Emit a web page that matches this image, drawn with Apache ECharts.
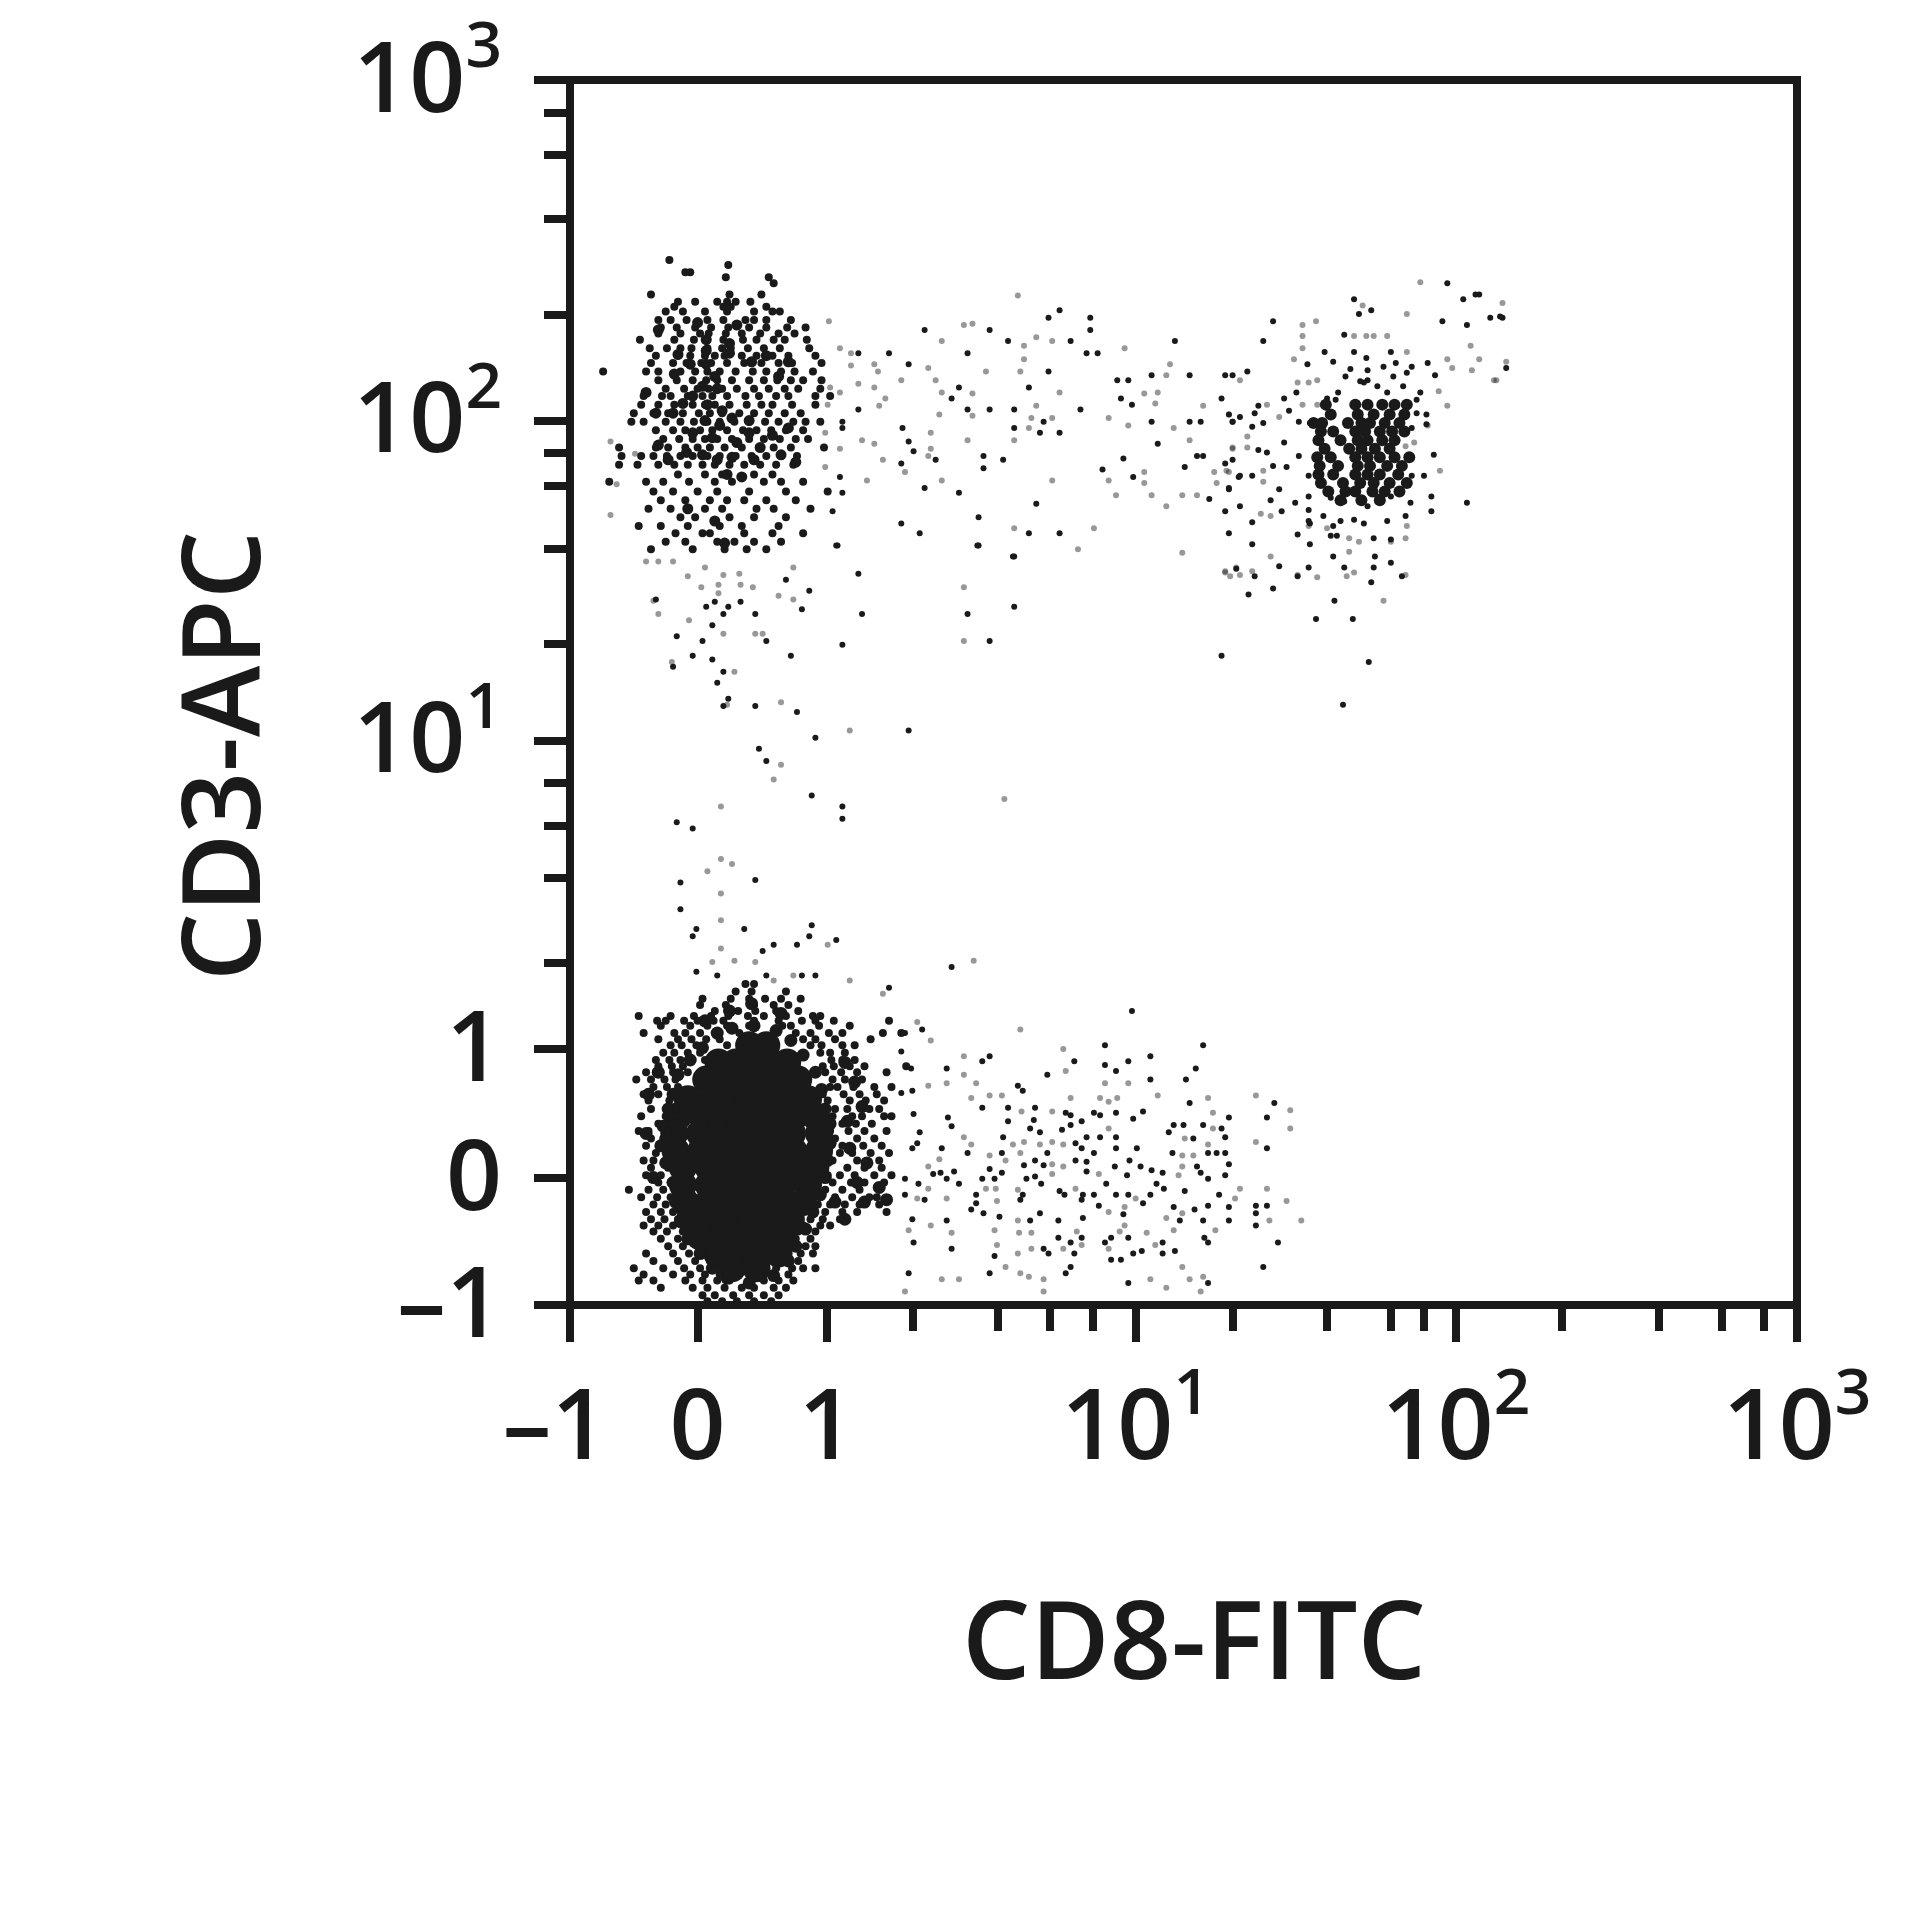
<!DOCTYPE html>
<html>
<head>
<meta charset="utf-8">
<title>CD3 / CD8 dot plot</title>
<script src="https://cdn.jsdelivr.net/npm/echarts@6/dist/echarts.min.js"></script>
<style>
html,body{margin:0;padding:0;background:#fff;}
#main{width:1920px;height:1920px;}
</style>
</head>
<body>
<div id="main"></div>
<script>
// both axes are biexponential, so everything is kept in display channels 0-1000
var majorTicks = [0, 104, 209, 461, 722, 1000];
var majorLabels = ['-1', '0', '1', '10^1', '10^2', '10^3'];
var minorTicks = [279, 349, 391, 426, 540, 617, 669, 696, 808, 887, 939, 973];
var xName = 'CD8-FITC';
var yName = 'CD3-APC';

// solid middle of the CD3- CD8- population, [y, [x...]]
var coreRows = [
  [212,[146,160]],
  [198,[121,135,149,163,177]],
  [184,[111,126,141,156,171,186]],
  [168,[96,115,130,145,160,175,194]],
  [154,[88,108,123,138,153,168,183,200]],
  [140,[85,106,121,136,151,166,181,203]],
  [126,[86,107,122,137,152,167,182,203]],
  [112,[92,113,128,143,158,173,188,200]],
  [98,[92,113,128,143,158,173,194]],
  [84,[94,113,128,143,158,173,190]],
  [70,[98,117,132,147,162,180]],
  [56,[106,125,140,155,174]],
  [42,[120,138,152,170]],
  [30,[132,152]]
];

// blotchy edge of that middle, [x, y]
var rimDots = [
  [120,222],[132,226],[150,228],[168,224],[180,216],[108,210],[98,200],[190,204],[200,190],[88,188],[84,172],[205,176],[80,160],[208,160],[76,146],[212,148],[74,130],[212,132],[78,116],[210,118],[84,100],[208,104],[86,84],[204,90],[90,68],[198,76],[96,54],[192,62],[106,42],[184,48],[116,30],[178,36],[128,22],[166,24],[146,18],
  [226,150],[238,162],[228,128],[242,116],[252,96],[234,100],[216,84],[240,84],[224,70],[258,86],[232,182],[224,198],[72,190],[64,172],[68,104],[62,140],[148,246],[130,240],[172,238],[110,232]
];

// dots round that middle
var haloRows = [
  [262,[143,150]],[256,[135,148,176]],[250,[108,131,146,159,172,188]],
  [245,[106,127,150,166,178]],[240,[118,137,151,168,186]],
  [236,[56,82,101,115,129,145,158,176,198,204]],
  [232,[71,78,93,104,117,125,150,170,189,200,215,260]],
  [228,[74,98,112,128,146,173,180,203,228]],
  [222,[60,85,94,106,118,138,184,196,211,222,255,270]],
  [217,[72,88,99,111,122,190,200,216,245]],
  [212,[82,91,103,128,196,205,222,232]],
  [206,[76,85,96,106,204,212,224]],
  [200,[70,81,90,110,213,222,232]],
  [195,[72,83,92,206,215,228,240,274]],
  [190,[62,70,84,96,208,221,234,258]],
  [184,[54,66,77,86,214,224,238]],
  [178,[68,79,88,212,218,231,248,262]],
  [172,[60,72,84,206,223,236,250]],
  [167,[64,81,90,210,228,241,256]],
  [160,[66,86,216,226,244,252]],
  [154,[58,78,87,214,230,238,256,262]],
  [148,[72,84,222,233,246]],
  [142,[56,64,80,212,227,240,258]],
  [136,[66,76,86,216,234,248]],
  [130,[62,74,84,210,222,239,254]],
  [124,[70,82,220,230,245,260]],
  [118,[60,68,78,214,234,252]],
  [112,[66,80,226,240,254]],
  [106,[62,74,210,220,232,248,262]],
  [100,[72,82,214,229,240,256]],
  [94,[48,64,76,208,222,236]],
  [88,[58,71,82,204,216,230,244,250]],
  [82,[68,78,202,212,224,236,252]],
  [76,[62,74,84,198,208,222,234,258]],
  [70,[66,77,88,196,206,220]],
  [65,[60,72,84,190,204,212]],
  [60,[68,79,92,186,200]],
  [54,[74,88,96,184,196]],
  [48,[80,92,178,192,200]],
  [42,[62,84,97,108,176,188,198]],
  [36,[68,88,102,114,172,186]],
  [30,[52,76,93,106,118,168,181,190,200]],
  [25,[60,84,98,110,122,164,178]],
  [20,[56,68,94,108,120,130,158,170,182]],
  [14,[74,100,112,126,140,150,166,176]],
  [8,[108,118,133,146,158,170]],
  [3,[112,124,136,150,164]]
];

// CD3+ CD8- cluster
var topLeftRows = [
  [853,[81]],[849,[129]],[843,[94,98]],[839,[127,162]],[834,[166]],[825,[66,130,156]],
  [819,[88,102,120,128,135,147]],[815,[85,125,131,160]],[811,[78,92,110,128,150,165,171]],
  [804,[72,82,95,112,125,143,150,160,180]],
  [798,[74,87,102,115,129,146,160,177,192]],
  [793,[72,90,106,113,127,140,155,170,183]],
  [788,[57,85,101,112,125,141,152,166,175,193]],
  [781,[65,79,90,99,112,124,131,145,158,171,195]],
  [775,[70,88,98,110,118,126,140,152,165,178,200]],
  [769,[66,84,95,107,115,128,142,156,170,181,205]],
  [762,[27,62,72,90,102,112,122,135,149,160,172,183,198]],
  [755,[72,87,100,111,120,132,146,158,169,180,190,205]],
  [748,[78,93,104,113,124,136,150,162,175,186,204]],
  [742,[60,75,82,96,108,116,128,143,154,168,178,200,212]],
  [735,[58,72,85,100,110,118,130,144,156,165,181,200]],
  [728,[52,68,80,92,105,114,124,138,150,162,175,188]],
  [721,[50,60,78,90,101,112,122,134,146,159,170,182,192,204]],
  [714,[70,84,94,106,116,128,141,152,164,176,190]],
  [707,[76,89,100,110,120,132,146,158,171,184,194]],
  [700,[40,70,80,94,104,114,126,140,154,166,180,207]],
  [693,[42,58,68,79,90,100,112,122,135,148,160,172,185]],
  [686,[40,55,72,85,96,108,118,130,142,155,168,182]],
  [678,[88,110,124,150,165]],
  [672,[32,62,76,97,118,132,158,172,190]],
  [664,[68,84,104,120,146,176,210]],
  [657,[74,94,114,128,142,160,184]],
  [650,[64,82,110,124,152,166,196]],
  [643,[90,102,130,150,176]],
  [636,[56,74,96,122,140,170]],
  [630,[86,108,114,142,165,190]],
  [623,[78,94,120,134,150,172]],
  [617,[66,100,126,144,160]]
];

// darker blotches inside that cluster, [x, y]
var topLeftClumps = [
  [111,788],[111,779],[98,768],[111,768],[130,785],[130,777],[118,758],[108,750],[120,748],[100,742],[92,736],[112,735],[124,730],[84,728],[70,728],[110,722],[122,718],[132,724],[146,722],[100,712],[116,708],[136,704],[146,712],[155,700],[165,710],[178,716],[95,696],[108,694],[120,690],[132,692],[150,690],[172,694],[184,688],[128,678],[140,676],[80,690],[72,702],[88,776],[148,770],[160,775],[72,796],[104,802],[136,800],[62,745],[170,758],[178,770],[85,760],[118,640],[126,622],[96,650]
];

// CD3+ CD8+ cluster, tight centre
var topRightRows = [
  [735,[616,640,650,662,672,682]],
  [727,[620,642,655,668,680]],
  [720,[606,613,634,645,652,664,676]],
  [713,[612,622,640,648,660,670,680]],
  [706,[610,628,642,650,662,672]],
  [699,[615,635,645,656,668]],
  [692,[609,620,640,650,660,672,684]],
  [685,[611,626,642,652,666,678]],
  [678,[610,622,640,650,660,675]],
  [671,[612,630,644,655,668,682]],
  [664,[618,632,640,654,664,676]],
  [657,[628,645,660]]
];

// single dark dots, [x, y]
var darkDots = [
  [289,796],[342,796],[390,806],[399,812],[424,806],[424,796],[357,787],[408,787],[493,787],[260,777],[324,777],[421,777],[430,777],[235,777],[276,768],[390,762],[474,759],[505,759],[534,759],[540,759],[317,749],[374,749],[446,755],[455,755],[311,740],[449,740],[531,740],[324,731],[342,731],[362,731],[416,731],[458,735],[235,731],[222,721],[222,716],[474,721],[505,721],[514,721],[540,721],[386,721],[399,712],[383,712],[362,716],[271,716],[479,703],[276,705],[280,697],[337,693],[337,683],[353,690],[298,690],[270,687],[434,682],[451,691],[459,676],[511,693],[516,693],[501,684],[537,667],[521,658],[545,676],[289,667],[317,663],[222,663],[220,676],[214,648],[380,654],[534,648],[270,638],[333,643],[285,630],[374,630],[399,630],[537,630],[218,620],[333,620],[362,611],[235,597],[238,564],[324,564],[362,570],[342,542],[222,539],[531,530],[543,601],
  [217,620],[332,620],[361,611],[176,592],[195,583],[118,574],[139,574],[111,570],[129,570],[70,576],[125,564],[151,564],[189,568],[116,555],[87,546],[108,542],[160,542],[100,530],[116,527],[180,530],[84,521],[125,517],[120,508],[129,495],[125,489],[151,489],[185,484],[276,469],[200,463],[154,454],[160,444],[197,416],[222,407],[222,397],[87,394],[100,389],[151,347],[90,345],[90,323],[103,307],[142,307],[197,310],[100,301],[195,301],[166,294],[185,294],[217,298],[157,289],[311,276],[103,272],[120,269],[160,269],[189,269],[200,269],[260,259],
  [715,834],[741,825],[728,821],[750,806],[760,806],[711,803],[653,812],[731,800],[639,821],[643,809],[573,803],[565,787],[631,792],[763,765],[601,768],[615,778],[639,778],[649,773],[622,770],[669,778],[673,769],[699,769],[632,758],[705,759],[679,750],[650,755],[663,766],[686,766],[592,745],[582,740],[552,762],
  [556,639],[556,621],[593,629],[603,621],[622,611],[656,611],[669,606],[602,602],[631,602],[655,602],[578,603],[647,638],[666,640],[628,640],[602,640],[731,655],[702,660],[702,648],[704,694],[696,677],[686,677],
  [603,720],[594,721],[582,704],[594,693],[584,684],[602,677],[578,666],[571,657],[591,655],[602,660],[537,666],[546,677],[556,677],[573,685],[546,652],[580,648],[556,717],[565,720],[558,728],[537,727],[546,725],[540,721],[561,734],[586,730],[568,696],[561,698],[534,687],[540,690],
  [617,740],[626,745],[624,739],[647,753],[658,750],[671,758],[682,761],[693,745],[690,739],[666,745],[690,728],[698,727],[698,719],[686,716],[650,763],[636,764],[644,754],
  [620,659],[631,656],[650,652],[658,660],[669,660],[685,655],[602,649],[614,644],[639,641],[681,644],[622,636],[625,628],[603,638],[620,628],[655,626],[669,625],
  [630,490],[651,525],[608,560],[638,560],[573,585],[593,595],[623,575],[653,590],[678,595],[558,595],[553,580],[738,825],[758,807],
  [458,240],[436,212],[516,212],[342,203],[336,199],[411,199],[455,199],[473,203],[436,196],[445,191],[510,193],[307,193],[278,193],[389,188],[473,184],[502,184],[273,222],[287,225],[270,207],[369,175],[365,179],[279,175],[270,173],[336,161],[357,161],[379,161],[505,165],[574,165],[404,157],[408,155],[427,157],[432,155],[445,157],[467,158],[280,156],[308,153],[537,153],[568,153],[311,146],[357,150],[378,151],[459,152],[408,147],[417,150],[492,147],[500,147],[516,147],[375,144],[401,143],[383,141],[488,141],[531,144],[285,141],[353,137],[421,137],[432,137],[445,137],[508,136],[534,137],[279,128],[283,132],[303,128],[417,128],[412,132],[445,128],[427,124],[568,128],[324,124],[352,124],[389,124],[462,128],[491,124],[520,124],[527,124],[534,124],[379,118],[412,118],[421,117],[456,118],[444,113],[386,114],[370,114],[537,115],[511,113],[342,111],[352,108],[302,108],[313,109],[296,107],[307,103],[465,113],[474,110],[483,108],[421,109],[454,106],[514,108],[534,106],[520,103],[372,103],[379,105],[336,103],[346,103],[273,103],[317,99],[284,99],[437,99],[384,99],[478,99],[399,93],[403,90],[418,90],[427,90],[445,90],[455,90],[473,90],[484,95],[501,93],[529,90],[331,90],[369,90],[367,86],[289,86],[417,86],[273,90],[520,81],[537,80],[559,81],[568,81],[467,83],[431,81],[331,83],[327,78],[509,78],[492,80],[337,75],[350,72],[451,74],[559,75],[383,75],[279,70],[307,69],[375,69],[398,69],[418,71],[497,69],[516,69],[537,69],[559,65],[398,55],[417,55],[455,55],[441,55],[517,55],[520,51],[280,51],[408,51],[483,51],[577,51],[436,51],[311,46],[386,46],[390,42],[411,42],[459,42],[466,44],[483,42],[493,44],[441,37],[449,37],[346,40],[565,31],[408,31],[404,26],[342,26],[276,26],[455,18],[520,18]
];

// paler dots, [x, y]
var faintDots = [
  [365,824],[211,803],[328,801],[321,800],[303,787],[380,790],[393,787],[370,783],[370,772],[452,781],[220,781],[229,777],[229,767],[248,768],[292,765],[339,762],[367,762],[489,768],[486,759],[251,762],[270,755],[298,755],[248,749],[212,749],[235,752],[220,745],[303,745],[328,744],[399,745],[468,744],[479,745],[257,740],[210,735],[252,734],[380,734],[477,736],[516,734],[301,727],[328,726],[376,724],[393,724],[439,724],[537,727],[455,718],[492,716],[208,712],[294,712],[374,716],[324,706],[362,706],[238,706],[248,703],[505,706],[220,699],[294,699],[292,693],[255,690],[540,699],[208,684],[537,680],[525,680],[468,680],[242,673],[303,673],[393,673],[439,673],[468,671],[273,680],[445,661],[474,661],[499,661],[511,661],[527,671],[486,652],[362,634],[427,634],[414,617],[499,614],[534,598],[321,586],[321,542],
  [62,607],[72,607],[84,607],[110,602],[182,602],[96,595],[125,596],[138,597],[107,586],[121,588],[139,588],[149,586],[121,581],[170,579],[182,576],[72,564],[97,559],[125,548],[151,548],[157,548],[134,517],[172,492],[228,469],[172,441],[166,429],[123,407],[354,413],[123,364],[132,360],[112,354],[123,336],[123,314],[210,294],[123,291],[134,281],[116,280],[151,280],[329,281],[228,265],[166,265],[182,269],[255,254],[33,705],[53,695],[38,670],[33,645],[68,575],[83,525],[128,490],
  [760,818],[734,783],[741,772],[715,772],[755,755],[735,763],[719,765],[682,778],[682,809],[646,816],[597,800],[608,803],[597,791],[597,781],[639,791],[649,791],[655,791],[666,791],[590,772],[546,755],[593,753],[602,753],[609,755],[708,746],[597,735],[609,735],[715,734],[699,718],[568,735],[578,725],[552,709],[540,700],[552,700],[535,681],[565,681],[565,672],[709,681],[681,701],[688,704],[563,646],[571,644],[602,636],[682,636],[617,634],[681,626],[635,626],[643,623],[669,623],[571,611],[635,615],[556,599],[546,596],[534,599],[543,602],[593,596],[639,598],[681,596],[609,594],[693,835],[763,770],[753,755],[538,595],[633,595],[663,575],
  [283,231],[367,225],[402,209],[294,216],[321,203],[321,188],[404,191],[307,181],[292,179],[331,181],[436,181],[455,181],[342,171],[352,171],[327,169],[408,169],[432,169],[446,169],[479,171],[520,169],[559,171],[439,166],[393,158],[368,158],[587,159],[524,157],[439,144],[524,144],[587,144],[321,137],[327,131],[370,133],[361,131],[383,131],[393,133],[402,131],[520,131],[559,133],[501,136],[342,122],[301,119],[292,113],[367,124],[355,118],[393,115],[402,113],[499,122],[508,122],[499,113],[393,107],[431,107],[496,106],[292,95],[339,95],[347,95],[365,94],[412,95],[546,95],[568,95],[307,87],[348,85],[283,87],[461,87],[542,87],[584,85],[439,76],[452,80],[499,75],[486,71],[294,65],[365,69],[570,69],[596,69],[452,65],[346,61],[276,61],[311,59],[366,59],[376,59],[413,60],[448,60],[470,59],[492,61],[526,61],[348,49],[417,49],[477,49],[376,46],[402,46],[439,46],[365,42],[499,31],[355,31],[367,26],[374,23],[303,21],[317,21],[386,21],[473,21],[505,21],[516,23],[273,11],[386,11],[486,14],[514,11]
];

function rowsToPoints(rows) {
  var pts = [];
  rows.forEach(function (row) {
    row[1].forEach(function (x) { pts.push([x, row[0]]); });
  });
  return pts;
}

var INK = '#1a1a1a';
var FONT = '"Open Sans"';

function tickLabel(value, isX) {
  var label = majorLabels[majorTicks.indexOf(value)];
  if (label === '-1') return isX ? '{m|\u20131}' : '{n|\u20131}';
  if (label.indexOf('^') > 0) {
    var p = label.split('^');
    return '{n|' + p[0] + '}{s|' + p[1] + '}';
  }
  return '{n|' + label + '}';
}

var labelRich = {
  n: { fontSize: 98, fontFamily: FONT, fontWeight: 600, color: INK, lineHeight: 100, padding: [8, 0, 0, 0] },
  m: { fontSize: 98, fontFamily: FONT, fontWeight: 600, color: INK, lineHeight: 100, padding: [8, 30, 0, 0] },
  s: { fontSize: 64, fontFamily: FONT, fontWeight: 600, color: INK, lineHeight: 66, padding: [0, 0, 62, 0] }
};

function makeAxis(type, pos, ticks, len, withLabel) {
  var axis = {
    type: 'value', position: pos, min: 0, max: 1000,
    splitLine: { show: false },
    axisLine: { show: withLabel, onZero: false, lineStyle: { color: INK, width: 8 } },
    axisTick: { show: true, inside: false, length: len, customValues: ticks, lineStyle: { color: INK, width: 8 } },
    axisLabel: { show: withLabel }
  };
  if (withLabel) {
    axis.axisLabel = {
      show: true, customValues: ticks, rich: labelRich, hideOverlap: false,
      formatter: function (v) { return tickLabel(v, type === 'x'); },
      margin: type === 'x' ? 72 : 68
    };
  }
  return axis;
}

function dotSeries(data, size, opacity) {
  return {
    type: 'scatter', data: data, symbol: 'circle', symbolSize: size, silent: true,
    itemStyle: { color: INK, opacity: opacity }
  };
}

var chart = echarts.init(document.getElementById('main'));
chart.setOption({
  animation: false,
  backgroundColor: '#fff',
  grid: { left: 570, top: 80, width: 1227, height: 1225, show: true, backgroundColor: 'transparent', borderColor: INK, borderWidth: 8 },
  xAxis: [makeAxis('x', 'bottom', majorTicks, 37, true), makeAxis('x', 'bottom', minorTicks, 26, false)],
  yAxis: [makeAxis('y', 'left', majorTicks, 36, true), makeAxis('y', 'left', minorTicks, 26, false)],
  series: [
    dotSeries(rowsToPoints(coreRows), 28, 1),
    dotSeries(rimDots, 13, 1),
    dotSeries(rowsToPoints(haloRows), 8, 1),
    dotSeries(rowsToPoints(topLeftRows), 8, 1),
    dotSeries(topLeftClumps, 11, 1),
    dotSeries(rowsToPoints(topRightRows), 12, 1),
    dotSeries(darkDots, 6, 1),
    dotSeries(faintDots, 6, 0.45)
  ],
  graphic: [
    { type: 'text', x: 1194, y: 1648, style: { text: xName, fontSize: 108, fontFamily: FONT, fontWeight: 600, fill: INK, textAlign: 'center', textVerticalAlign: 'middle' } },
    { type: 'text', x: 229, y: 756, rotation: Math.PI / 2, style: { text: yName, fontSize: 108, fontFamily: FONT, fontWeight: 600, fill: INK, textAlign: 'center', textVerticalAlign: 'middle' } }
  ]
});
</script>
</body>
</html>
